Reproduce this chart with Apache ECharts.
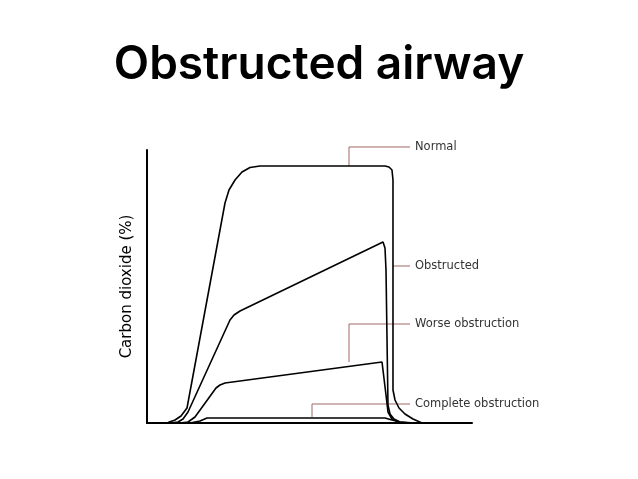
<!DOCTYPE html>
<html>
<head>
<meta charset="utf-8">
<script src="https://cdn.jsdelivr.net/npm/echarts@6/dist/echarts.min.js"></script>
<style>html,body{margin:0;padding:0;background:#fff}#c{width:638px;height:479px}</style>
</head>
<body>
<div id="c"></div>
<script>
// Curves: [time (%), CO2 (%)]
var normal = [[4.0,0],[6.46,0.18],[8.62,1.10],[10.46,2.56],[12.31,5.49],[24.0,80.59],[25.23,85.35],[27.08,89.01],[29.23,91.94],[31.69,93.59],[34.77,94.14],[73.23,94.14],[74.46,93.77],[75.38,92.67],[75.69,89.01],[75.69,12.09],[76.31,8.42],[77.54,5.49],[79.38,3.30],[81.85,1.47],[84.62,0]];
var obstructed = [[7.08,0],[9.54,0.37],[11.08,1.47],[12.62,4.03],[25.54,37.73],[26.77,39.56],[28.62,41.03],[72.62,66.30],[73.23,64.10],[73.54,56.04],[74.15,6.59],[74.77,3.30],[76.0,1.47],[77.85,0.37],[80.92,0]];
var worse = [[10.15,0],[12.62,0.37],[14.77,2.20],[21.23,12.82],[22.46,13.92],[24.0,14.65],[72.31,22.34],[72.92,21.61],[73.54,10.26],[74.15,4.03],[75.38,1.47],[77.85,0.18],[80.92,0]];
var complete = [[13.23,0],[16.31,0.73],[18.46,1.83],[73.23,1.83],[75.38,1.10],[77.85,0.37],[82.46,0]];
// Leader lines to labels
var seriesNames = ['Normal','Obstructed','Worse obstruction','Complete obstruction'];
var leaderNormal = [[62.15,94.14],[62.15,101.1],[80.92,101.1]];
var leaderObstructed = [[75.69,57.51],[80.92,57.51]];
var leaderWorse = [[62.15,22.34],[62.15,36.26],[80.92,36.26]];
var leaderComplete = [[50.77,2.2],[50.77,6.96],[80.92,6.96]];

var curves = [normal, obstructed, worse, complete];
var leaders = [leaderNormal, leaderObstructed, leaderWorse, leaderComplete];
var series = [];
curves.forEach(function(d, i){
  series.push({type:'line', name:seriesNames[i], data:d, showSymbol:false, symbol:'none',
    lineStyle:{color:'#000', width:1.6}, clip:false, silent:true, z:3});
});
leaders.forEach(function(d, i){
  series.push({type:'line', name:seriesNames[i], data:d, showSymbol:false, symbol:'none',
    lineStyle:{color:'#a06868', width:1}, clip:false, silent:true, z:2,
    endLabel:{show:true, formatter:'{a}', distance:5, color:'#333',
      fontFamily:'DejaVu Sans', fontSize:11.5}});
});

var chart = echarts.init(document.getElementById('c'));
chart.setOption({
  animation:false,
  backgroundColor:'#fff',
  title:{text:'Obstructed airway', left:'center', top:37,
    textStyle:{fontFamily:'Inter', fontWeight:600, fontSize:46, color:'#000'}},
  grid:{left:147, right:166, top:150, bottom:56},
  xAxis:{type:'value', min:0, max:100, axisLine:{lineStyle:{color:'#000', width:2}},
    axisTick:{show:false}, axisLabel:{show:false}, splitLine:{show:false}},
  yAxis:{type:'value', min:0, max:100, name:'Carbon dioxide (%)', nameLocation:'middle', nameGap:12,
    nameTextStyle:{fontFamily:'DejaVu Sans', fontSize:15, color:'#000'},
    axisLine:{show:true, lineStyle:{color:'#000', width:2}},
    axisTick:{show:false}, axisLabel:{show:false}, splitLine:{show:false}},
  series:series
});
</script>
</body>
</html>
